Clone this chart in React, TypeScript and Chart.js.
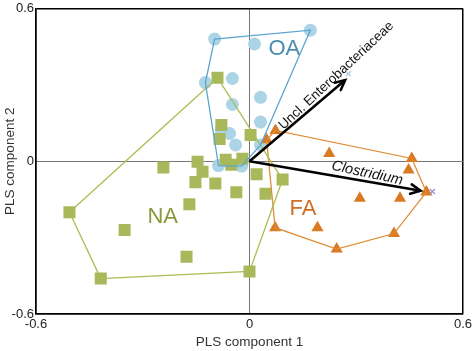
import React, { useEffect, useRef } from 'react';
import { Chart, registerables } from 'chart.js';
Chart.register(...registerables);

// ---- data (PLS scores) ----
const oaX = [-0.098, 0.014, 0.171, -0.124, -0.048, 0.031, -0.048, 0.031, -0.079, -0.056, -0.039, 0.031, -0.087, -0.022];
const oaY = [0.480, 0.461, 0.515, 0.309, 0.325, 0.251, 0.223, 0.154, 0.122, 0.109, 0.064, 0.064, -0.017, -0.019];

const naX = [-0.090, -0.079, -0.084, 0.003, -0.146, -0.242, -0.132, -0.152, -0.096, -0.037, -0.169, -0.067, -0.051, -0.020, 0.020, 0.093, 0.045, -0.506, -0.351, -0.177, -0.418, 0.000];
const naY = [0.328, 0.142, 0.087, 0.103, -0.002, -0.025, -0.041, -0.082, -0.087, -0.122, -0.169, 0.006, -0.014, 0.010, -0.051, -0.072, -0.128, -0.200, -0.270, -0.375, -0.461, -0.433];

const faX = [0.073, 0.048, 0.224, 0.456, 0.447, 0.497, 0.310, 0.423, 0.072, 0.191, 0.406, 0.245];
const faY = [0.121, 0.084, 0.030, 0.011, -0.034, -0.121, -0.145, -0.145, -0.261, -0.261, -0.284, -0.345];

// loadings (arrows)
const arrowNames = ['Uncl. Enterobacteriaceae', 'Clostridium'];
const arrowTipX = [0.269, 0.481];
const arrowTipY = [0.319, -0.116];
const loadingX = [0.278, 0.514];
const loadingY = [0.344, -0.119];

// group labels
const groupNames = ['OA', 'NA', 'FA'];
const groupLabelX = [0.098, -0.244, 0.150];
const groupLabelY = [0.441, -0.220, -0.188];

// arrow label anchor positions (data units)
const arrowLabelX = [0.244, 0.331];
const arrowLabelY = [0.336, -0.047];

const axisTicks = [-0.6, 0, 0.6];

// ---- styles ----
const FONT = '"Liberation Sans", Arial, Helvetica, sans-serif';
const groupTextColors = ['#4a8db0', '#8a9a3a', '#cf6f26'];
const arrowLabelRot = [-43, 12];
const arrowLabelItalic = [false, true];
const arrowLabelSize = [13.5, 14.5];
const loadingColors = ['#a9cfe3', '#9a92d2'];

type P = { x: number; y: number };
const pts = (xs: number[], ys: number[]): P[] => xs.map((x, i) => ({ x, y: ys[i] }));

function hull(points: P[]): P[] {
  const p = [...points].sort((a, b) => (a.x === b.x ? a.y - b.y : a.x - b.x));
  const cross = (o: P, a: P, b: P) => (a.x - o.x) * (b.y - o.y) - (a.y - o.y) * (b.x - o.x);
  const lower: P[] = [];
  for (const q of p) {
    while (lower.length >= 2 && cross(lower[lower.length - 2], lower[lower.length - 1], q) <= 0) lower.pop();
    lower.push(q);
  }
  const upper: P[] = [];
  for (let i = p.length - 1; i >= 0; i--) {
    const q = p[i];
    while (upper.length >= 2 && cross(upper[upper.length - 2], upper[upper.length - 1], q) <= 0) upper.pop();
    upper.push(q);
  }
  upper.pop();
  lower.pop();
  const h = lower.concat(upper);
  return h.concat([h[0]]);
}

const annotPlugin = {
  id: 'annot',
  afterDatasetsDraw(chart: any) {
    const { ctx, scales } = chart;
    const sx = scales.x, sy = scales.y;
    ctx.save();
    // arrowheads
    const ox = sx.getPixelForValue(0), oy = sy.getPixelForValue(0);
    arrowTipX.forEach((tx0, i) => {
      const tx = sx.getPixelForValue(tx0), ty = sy.getPixelForValue(arrowTipY[i]);
      const a = Math.atan2(ty - oy, tx - ox);
      const L = 11, w = 0.45;
      ctx.beginPath();
      ctx.moveTo(tx - L * Math.cos(a - w), ty - L * Math.sin(a - w));
      ctx.lineTo(tx, ty);
      ctx.lineTo(tx - L * Math.cos(a + w), ty - L * Math.sin(a + w));
      ctx.strokeStyle = '#000';
      ctx.lineWidth = 2.5;
      ctx.lineJoin = 'miter';
      ctx.lineCap = 'round';
      ctx.stroke();
    });
    // arrow labels
    arrowNames.forEach((name, i) => {
      const px = sx.getPixelForValue(arrowLabelX[i]), py = sy.getPixelForValue(arrowLabelY[i]);
      ctx.save();
      ctx.translate(px, py);
      ctx.rotate((arrowLabelRot[i] * Math.PI) / 180);
      ctx.font = `${arrowLabelItalic[i] ? 'italic ' : ''}${arrowLabelSize[i]}px ${FONT}`;
      ctx.fillStyle = '#111';
      ctx.textAlign = 'center';
      ctx.textBaseline = 'middle';
      ctx.fillText(name, 0, 0);
      ctx.restore();
    });
    // group labels
    groupNames.forEach((name, i) => {
      const px = sx.getPixelForValue(groupLabelX[i]), py = sy.getPixelForValue(groupLabelY[i]);
      ctx.font = `22px ${FONT}`;
      ctx.fillStyle = groupTextColors[i];
      ctx.textAlign = 'center';
      ctx.textBaseline = 'middle';
      ctx.fillText(name, px, py);
    });
    ctx.restore();
  },
};

export default function App() {
  const ref = useRef<HTMLCanvasElement>(null);
  useEffect(() => {
    if (!ref.current) return;
    const oa = pts(oaX, oaY), na = pts(naX, naY), fa = pts(faX, faY);
    const tickCb = (v: any) => (v === 0 ? '0' : Number(v).toFixed(1));
    const gridColor = (c: any) => (c.tick && c.tick.value === 0 ? '#777' : '#000');
    const gridWidth = (c: any) => (c.tick && c.tick.value === 0 ? 1 : 1.5);
    const chart = new Chart(ref.current, {
      type: 'scatter',
      data: {
        datasets: [
          // arrows
          ...arrowNames.map((n, i) => ({
            label: n,
            data: [{ x: 0, y: 0 }, { x: arrowTipX[i], y: arrowTipY[i] }],
            showLine: true,
            borderColor: '#000',
            borderWidth: 2.5,
            pointRadius: 0,
            order: 0,
          })),
          {
            label: 'loadings',
            data: pts(loadingX, loadingY),
            pointStyle: 'crossRot',
            pointRadius: 3.5,
            borderWidth: 1.3,
            borderColor: loadingColors,
            backgroundColor: loadingColors,
            order: 0,
          },
          // hulls
          { label: 'OA hull', data: hull(oa), showLine: true, borderColor: '#5aa5d0', borderWidth: 1.3, pointRadius: 0, order: 1 },
          { label: 'NA hull', data: hull(na), showLine: true, borderColor: '#a9bd52', borderWidth: 1.3, pointRadius: 0, order: 1 },
          { label: 'FA hull', data: hull(fa), showLine: true, borderColor: '#e08d35', borderWidth: 1.3, pointRadius: 0, order: 1 },
          // points
          { label: 'FA', data: fa, pointStyle: 'triangle', pointRadius: 7, backgroundColor: '#d97a22', borderColor: '#d97a22', borderWidth: 0, order: 2 },
          { label: 'NA', data: na, pointStyle: 'rect', pointRadius: 8.5, backgroundColor: '#a8b95c', borderColor: '#a8b95c', borderWidth: 0, order: 3 },
          { label: 'OA', data: oa, pointStyle: 'circle', pointRadius: 6.5, backgroundColor: '#abd4e6', borderColor: '#abd4e6', borderWidth: 0, order: 4 },
        ] as any,
      },
      options: {
        animation: false,
        responsive: false,
        events: [],
        layout: { padding: { top: 5, right: 11, left: 0, bottom: 0 } },
        plugins: { legend: { display: false }, tooltip: { enabled: false } },
        scales: {
          x: {
            type: 'linear',
            min: -0.6,
            max: 0.6,
            afterBuildTicks: (s: any) => { s.ticks = axisTicks.map((v) => ({ value: v })); },
            afterFit: (s: any) => { s.height = 37; s.paddingLeft = 0; s.paddingRight = 0; },
            ticks: { callback: tickCb, color: '#222', font: { family: FONT, size: 13 }, padding: 3, maxRotation: 0, autoSkip: false },
            grid: { color: gridColor, lineWidth: gridWidth, drawTicks: false },
            border: { display: true, color: '#000', width: 1.5 },
            title: { display: true, text: 'PLS component 1', color: '#333', font: { family: FONT, size: 13.5 }, padding: { top: 0, bottom: 1 } },
          },
          y: {
            type: 'linear',
            min: -0.6,
            max: 0.6,
            afterBuildTicks: (s: any) => { s.ticks = axisTicks.map((v) => ({ value: v })); },
            afterFit: (s: any) => { s.width = 36; s.paddingTop = 0; s.paddingBottom = 0; },
            ticks: { callback: tickCb, color: '#222', font: { family: FONT, size: 13 }, padding: 2, autoSkip: false },
            grid: { color: gridColor, lineWidth: gridWidth, drawTicks: false },
            border: { display: true, color: '#000', width: 1.5 },
            title: { display: true, text: 'PLS component 2', color: '#333', font: { family: FONT, size: 13.5 }, padding: { top: 2, bottom: 0 } },
          },
        },
      } as any,
      plugins: [annotPlugin],
    });
    return () => chart.destroy();
  }, []);
  return (
    <div style={{ position: 'fixed', left: 0, top: 0, width: 474, height: 351, background: '#fff' }}>
      <canvas ref={ref} width={474} height={351} style={{ width: 474, height: 351 }} />
    </div>
  );
}
